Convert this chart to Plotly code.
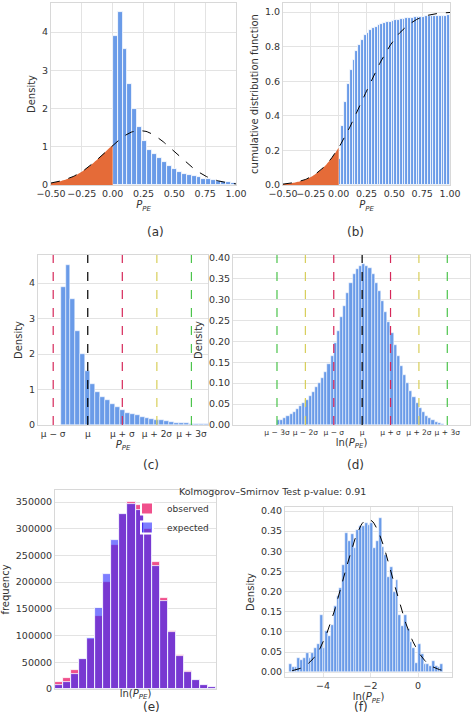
import math
import plotly.graph_objects as go

# ---------------- data ----------------
pe_bin_width = 0.04
pe_density = [3.9, 4.52, 3.55, 2.65, 2.0, 1.52, 1.15, 0.92, 0.8, 0.7, 0.6, 0.5, 0.42,
              0.35, 0.3, 0.27, 0.23, 0.2, 0.17, 0.15, 0.13, 0.11, 0.09, 0.07, 0.05]
pe_density_tail = [0.045, 0.04, 0.035, 0.03, 0.027, 0.024]
fit_mu, fit_sigma = 0.22, 0.28

cdf_bin_width = 0.025
cdf_values = [0.15, 0.34, 0.48, 0.585, 0.665, 0.725, 0.775, 0.81, 0.84, 0.865, 0.88, 0.895,
              0.905, 0.915, 0.922, 0.93, 0.935, 0.94, 0.945, 0.95, 0.953, 0.956, 0.959, 0.962,
              0.964, 0.966, 0.968, 0.97, 0.971, 0.972, 0.973, 0.974, 0.975, 0.976, 0.977, 0.977,
              0.978, 0.978, 0.979, 0.98]

ln_mu, ln_sigma = -2.1, 1.05
ln_bin_sigma = 0.111
ln_density = [0.012, 0.013, 0.017, 0.021, 0.026, 0.032, 0.038, 0.045, 0.052, 0.06, 0.07, 0.08,
              0.09, 0.1, 0.112, 0.127, 0.145, 0.165, 0.195, 0.225, 0.257, 0.285, 0.315, 0.34,
              0.36, 0.372, 0.38, 0.385, 0.38, 0.375, 0.36, 0.34, 0.32, 0.295, 0.27, 0.245,
              0.22, 0.19, 0.165, 0.14, 0.12, 0.1, 0.082, 0.066, 0.052, 0.04, 0.03, 0.022,
              0.016, 0.011, 0.007, 0.004, 0.002]
sigma_labels = ["μ − 3σ", "μ − 2σ", "μ − σ", "μ", "μ + σ", "μ + 2σ", "μ + 3σ"]
sigma_mult = [-3, -2, -1, 0, 1, 2, 3]
sigma_colors = ["#4cc44c", "#d8cf5a", "#d6285a", "black", "#d6285a", "#d8cf5a", "#4cc44c"]

observed = [13000, 20000, 35000, 57000, 93000, 137000, 201000, 270000, 327000, 350000,
            344000, 300000, 237000, 170000, 108000, 64000, 34000, 16000, 7000, 3000]
expected = [7000, 14000, 29000, 57000, 96000, 151000, 216000, 278000, 327000, 346000,
            335000, 291000, 231000, 165000, 107000, 61000, 32000, 16000, 7000, 3000]

ks_start, ks_width = -5.43, 0.118
ks_density = [0.02, 0.012, 0.014, 0.036, 0.03, 0.036, 0.048, 0.036, 0.048, 0.06, 0.07, 0.143,
              0.06, 0.103, 0.09, 0.118, 0.165, 0.19, 0.21, 0.265, 0.345, 0.326, 0.342, 0.307,
              0.354, 0.362, 0.362, 0.37, 0.366, 0.37, 0.307, 0.326, 0.383, 0.31, 0.29, 0.236,
              0.26, 0.2, 0.228, 0.142, 0.115, 0.142, 0.107, 0.075, 0.06, 0.024, 0.071, 0.044,
              0.02, 0.02, 0.016, 0.028, 0.016, 0.013, 0.02]
ks_mu, ks_sigma = -2.1, 1.05

# ---------------- helpers ----------------
BLUE = "#6a9be8"
ORANGE = "#e56b38"
FONT = "DejaVu Sans"

def pdf(x, m, s):
    return math.exp(-(x - m) ** 2 / (2 * s * s)) / (s * math.sqrt(2 * math.pi))

def cdf(x, m, s):
    return 0.5 * (1 + math.erf((x - m) / (s * math.sqrt(2))))

def grid(a, b, n):
    return [a + (b - a) * i / n for i in range(n + 1)]

fig = go.Figure()

def bars(xs, ys, w, ax, color=BLUE, name=None, lw=0.8):
    fig.add_trace(go.Bar(x=xs, y=ys, width=w, marker=dict(color=color, line=dict(color="white", width=lw)),
                         xaxis="x" + ax, yaxis="y" + ax, name=name,
                         showlegend=name is not None))

# (a)
xa = [pe_bin_width * (i + 0.5) for i in range(len(pe_density))]
bars(xa, pe_density, pe_bin_width, "")
xs = grid(-0.5, 0, 60)
fig.add_trace(go.Scatter(x=xs, y=[pdf(v, fit_mu, fit_sigma) for v in xs], fill="tozeroy", mode="none",
                         fillcolor=ORANGE, showlegend=False, xaxis="x", yaxis="y"))
xs = grid(-0.5, 1.0, 150)
fig.add_trace(go.Scatter(x=xs, y=[pdf(v, fit_mu, fit_sigma) for v in xs], mode="lines",
                         line=dict(color="black", dash="dash", width=1), showlegend=False, xaxis="x", yaxis="y"))
# (b)
xb = [cdf_bin_width * (i + 0.5) for i in range(len(cdf_values))]
bars(xb, cdf_values, cdf_bin_width, "2")
xs = grid(-0.5, 0, 60)
fig.add_trace(go.Scatter(x=xs, y=[cdf(v, fit_mu, fit_sigma) for v in xs], fill="tozeroy", mode="none",
                         fillcolor=ORANGE, showlegend=False, xaxis="x2", yaxis="y2"))
xs = grid(-0.5, 1.0, 150)
fig.add_trace(go.Scatter(x=xs, y=[cdf(v, fit_mu, fit_sigma) for v in xs], mode="lines",
                         line=dict(color="black", dash="dash", width=1), showlegend=False, xaxis="x2", yaxis="y2"))
# (c)
cvals = pe_density + pe_density_tail
xc = [pe_bin_width * (i + 0.5) for i in range(len(cvals))]
bars(xc, cvals, pe_bin_width, "3", lw=0.5)
c_ticks = [fit_mu + k * fit_sigma for k in sigma_mult]
for k, col in zip(sigma_mult, sigma_colors):
    if k < -1:
        continue
    xv = fit_mu + k * fit_sigma
    fig.add_trace(go.Scatter(x=[xv, xv], y=[0, 4.79], mode="lines", line=dict(color=col, dash="dash", width=1.2),
                             showlegend=False, xaxis="x3", yaxis="y3"))
# (d)
wd = ln_bin_sigma * ln_sigma
xd = [ln_mu - 3 * ln_sigma + wd * (i + 0.5) for i in range(len(ln_density))]
bars(xd, ln_density, wd, "4", lw=0.5)
d_ticks = [ln_mu + k * ln_sigma for k in sigma_mult]
for xv, col in zip(d_ticks, sigma_colors):
    fig.add_trace(go.Scatter(x=[xv, xv], y=[0, 0.406], mode="lines", line=dict(color=col, dash="dash", width=1.2),
                             showlegend=False, xaxis="x4", yaxis="y4"))
# (e)
xe = list(range(1, len(observed) + 1))
bars(xe, observed, 1, "5", color="#f0508c", name="observed")
bars(xe, expected, 1, "5", color="rgba(40,40,255,0.6)", name="expected")
# (f)
xf = [ks_start + ks_width * (i + 0.5) for i in range(len(ks_density))]
bars(xf, ks_density, ks_width, "6", lw=0.5)
xs = grid(-5.3, 1.0, 150)
fig.add_trace(go.Scatter(x=xs, y=[pdf(v, ks_mu, ks_sigma) for v in xs], mode="lines",
                         line=dict(color="black", dash="dash", width=1), showlegend=False, xaxis="x6", yaxis="y6"))

# ---------------- layout ----------------
W, H = 474, 721
def dx(a, b): return [a / W, b / W]
def dy(top, bot): return [1 - bot / H, 1 - top / H]

GRID = "#e3e3e3"
ax_common = dict(showgrid=True, gridcolor=GRID, showline=True, linecolor="#d8d8d8", mirror=True,
                 zeroline=False, ticks="", tickangle=0, automargin=False, tickfont=dict(size=9.5, color="#333"))
PPE = "<i>P<sub>PE</sub></i>"
lnPPE = "ln(<i>P<sub>PE</sub></i>)"
tf = dict(size=10, color="#333")

layout = dict(
    width=W, height=H, margin=dict(l=0, r=0, t=0, b=0), plot_bgcolor="white", paper_bgcolor="white",
    font=dict(family=FONT, size=10, color="#333"), barmode="overlay", bargap=0,
    xaxis=dict(ax_common, domain=dx(51, 236), anchor="y", range=[-0.5, 1.0], dtick=0.25, tickformat=".2f",
               title=dict(text=PPE, font=tf, standoff=2)),
    yaxis=dict(ax_common, domain=dy(3, 185), anchor="x", range=[0, 4.76], dtick=1,
               title=dict(text="Density", font=tf, standoff=4)),
    xaxis2=dict(ax_common, domain=dx(283, 450), anchor="y2", range=[-0.5, 1.0], dtick=0.25, tickformat=".2f",
                title=dict(text=PPE, font=tf, standoff=2)),
    yaxis2=dict(ax_common, domain=dy(3, 185), anchor="x2", range=[0, 1.052], dtick=0.2, tickformat=".1f",
                title=dict(text="cumulative distribution function", font=tf, standoff=4)),
    xaxis3=dict(ax_common, domain=dx(38, 208), anchor="y3", showgrid=False,
                range=[fit_mu - 1.44 * fit_sigma, fit_mu + 3.48 * fit_sigma],
                tickmode="array", tickvals=c_ticks[2:], ticktext=sigma_labels[2:], tickfont=dict(size=9, color="#333"),
                title=dict(text=PPE, font=tf, standoff=2)),
    yaxis3=dict(ax_common, domain=dy(255, 425), anchor="x3", range=[0, 4.79], dtick=1,
                title=dict(text="Density", font=tf, standoff=4)),
    xaxis4=dict(ax_common, domain=dx(233, 470), anchor="y4", showgrid=False,
                range=[ln_mu - 4.55 * ln_sigma, ln_mu + 3.8 * ln_sigma],
                tickmode="array", tickvals=d_ticks, ticktext=sigma_labels, tickfont=dict(size=7.5, color="#333"),
                title=dict(text=lnPPE, font=tf, standoff=2)),
    yaxis4=dict(ax_common, domain=dy(255, 425), anchor="x4", range=[0, 0.406], dtick=0.05, tickformat=".2f",
                title=dict(text="Density", font=tf, standoff=4)),
    xaxis5=dict(ax_common, domain=dx(55, 216), anchor="y5", range=[0.5, 20.5], showgrid=False,
                showticklabels=False, title=dict(text=lnPPE, font=tf, standoff=0)),
    yaxis5=dict(ax_common, domain=dy(490, 689), anchor="x5", range=[0, 372500], dtick=50000, tickformat="d",
                title=dict(text="frequency", font=tf, standoff=4)),
    xaxis6=dict(ax_common, domain=dx(285, 452), anchor="y6", range=[-5.6, 1.43],
                tickmode="array", tickvals=[-4, -2, 0], ticktext=["−4", "−2", "0"],
                title=dict(text=lnPPE, font=tf, standoff=0)),
    yaxis6=dict(ax_common, domain=dy(507, 677), anchor="x6", range=[-0.012, 0.41], dtick=0.05, tickformat=".2f",
                title=dict(text="Density", font=tf, standoff=4)),
    legend=dict(x=214 / W, xanchor="right", y=1 - 494 / H, yanchor="top", bgcolor="rgba(255,255,255,0)",
                font=dict(size=9), tracegroupgap=0, itemwidth=30, itemsizing="constant",
                borderwidth=0),
)
fig.update_layout(**layout)

labels = [("(a)", 145, 223), ("(b)", 366, 223), ("(c)", 141, 465), ("(d)", 366, 465),
          ("(e)", 141, 716), ("(f)", 370, 716)]
for t, x, y in labels:
    fig.add_annotation(text=t, x=x / W, y=1 - y / H, xref="paper", yref="paper", showarrow=False,
                       font=dict(size=12, color="#333"))
fig.add_annotation(text="Kolmogorov–Smirnov Test p-value: 0.91", x=368 / W, y=1 - 499 / H, xref="paper",
                   yref="paper", showarrow=False, font=dict(size=9.5, color="#333"))

fig.write_html("out.html", config={"displayModeBar": False},
               post_script="document.body.style.margin='0';document.body.style.overflow='hidden';")
